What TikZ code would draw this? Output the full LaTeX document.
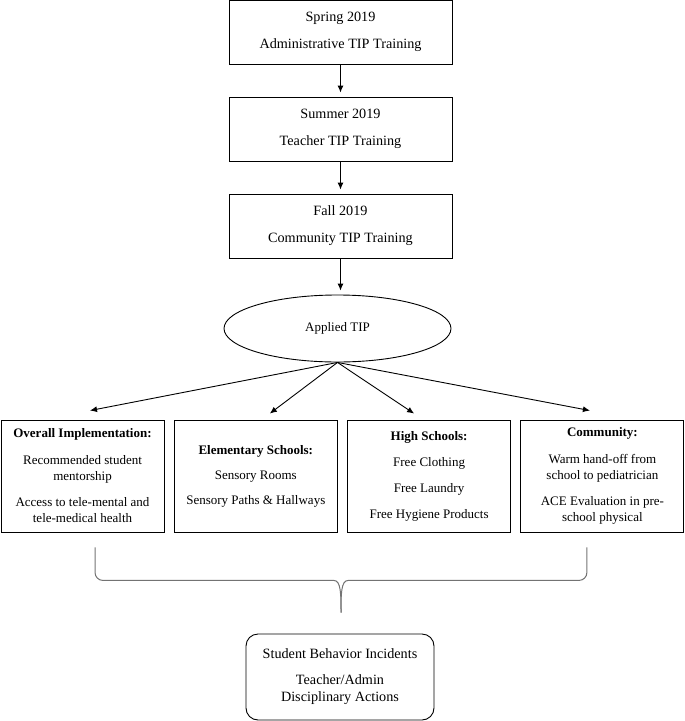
\documentclass[tikz,border=0pt]{standalone}
\usepackage{fontspec}
\setmainfont{Liberation Serif}
\usepackage{tikz}
\usetikzlibrary{arrows.meta, shapes.geometric}

\begin{document}
\begin{tikzpicture}[
    x=1pt, y=-1pt, >={Latex[length=7pt,width=6pt]}, node distance=97pt,
    every node/.style={draw, align=center, line width=0.9pt},
    stage_box/.style={rectangle, minimum width=223pt, minimum height=64pt, font=\fontsize{14.2}{17}\selectfont},
    area_box/.style={rectangle, minimum width=163pt, minimum height=112pt, font=\fontsize{13}{16}\selectfont},
    flow_arrow/.style={->, line width=0.9pt, shorten >=4pt},
    brace_line/.style={-, draw=black!55, line width=1pt}
]
\useasboundingbox (0,0) rectangle (685,721);
\node (spring_admin) [stage_box] at (340.5,32) {Spring 2019\\[10pt]Administrative TIP Training};
\node (summer_teacher) [stage_box, below of=spring_admin] {Summer 2019\\[10pt]Teacher TIP Training};
\node (fall_community) [stage_box, below of=summer_teacher] {Fall 2019\\[10pt]Community TIP Training};
\node (applied_tip) [ellipse, below of=fall_community, minimum width=227pt, minimum height=67pt, xshift=-3pt, yshift=-5.5pt, font=\fontsize{13}{16}\selectfont] {Applied TIP};
\node (overall_impl) [area_box, below of=applied_tip, xshift=-255pt, yshift=-50.5pt] {\textbf{Overall Implementation:}\\[11pt]Recommended student\\mentorship\\[10pt]Access to tele-mental and\\tele-medical health};
\node (elementary_schools) [area_box, right of=overall_impl, xshift=76.3pt] {\textbf{Elementary Schools:}\\[9pt]Sensory Rooms\\[9pt]Sensory Paths \& Hallways};
\node (high_schools) [area_box, right of=elementary_schools, xshift=76.3pt] {\textbf{High Schools:}\\[10pt]Free Clothing\\[10pt]Free Laundry\\[10pt]Free Hygiene Products};
\node (community) [area_box, right of=high_schools, xshift=76.3pt] {\textbf{Community:}\\[11pt]Warm hand-off from\\school to pediatrician\\[10pt]ACE Evaluation in pre-\\school physical};
\node (student_incidents) [rectangle, rounded corners=12pt, below of=overall_impl, xshift=257.5pt, yshift=-104pt, minimum width=188pt, minimum height=86pt, font=\fontsize{14.2}{17}\selectfont] {Student Behavior Incidents\\[9pt]Teacher/Admin\\Disciplinary Actions};
% training sequence
\draw[flow_arrow] (spring_admin) -- (summer_teacher);
\draw[flow_arrow] (summer_teacher) -- (fall_community);
\draw[flow_arrow] (fall_community.south) -- (fall_community.south |- applied_tip.north);
% applied areas
\draw[->, line width=0.9pt] (applied_tip.south) -- ([xshift=7.5pt, yshift=9pt]overall_impl.north);
\draw[->, line width=0.9pt] (applied_tip.south) -- ([xshift=14pt, yshift=6pt]elementary_schools.north);
\draw[->, line width=0.9pt] (applied_tip.south) -- ([xshift=-15pt, yshift=6pt]high_schools.north);
\draw[->, line width=0.9pt] (applied_tip.south) -- ([xshift=-12.5pt, yshift=9pt]community.north);
% brace to outcomes
\coordinate (brace_left) at ([xshift=12.5pt, yshift=-15pt]overall_impl.south);
\coordinate (brace_right) at ([xshift=-15.5pt, yshift=-15pt]community.south);
\coordinate (brace_tip) at ([xshift=1pt, yshift=21pt]student_incidents.north);
\coordinate (brace_mid) at ([yshift=-33pt]brace_tip |- brace_left);
\draw[brace_line] (brace_left) -- ([yshift=8pt]brace_left |- brace_mid) to[out=-90, in=180] ([xshift=8pt]brace_left |- brace_mid) -- ([xshift=-7pt]brace_mid) .. controls (brace_mid) and ([yshift=18pt]brace_tip) .. (brace_tip);
\draw[brace_line] (brace_right) -- ([yshift=8pt]brace_right |- brace_mid) to[out=-90, in=0] ([xshift=-8pt]brace_right |- brace_mid) -- ([xshift=7pt]brace_mid) .. controls (brace_mid) and ([yshift=18pt]brace_tip) .. (brace_tip);
\end{tikzpicture}
\end{document}
